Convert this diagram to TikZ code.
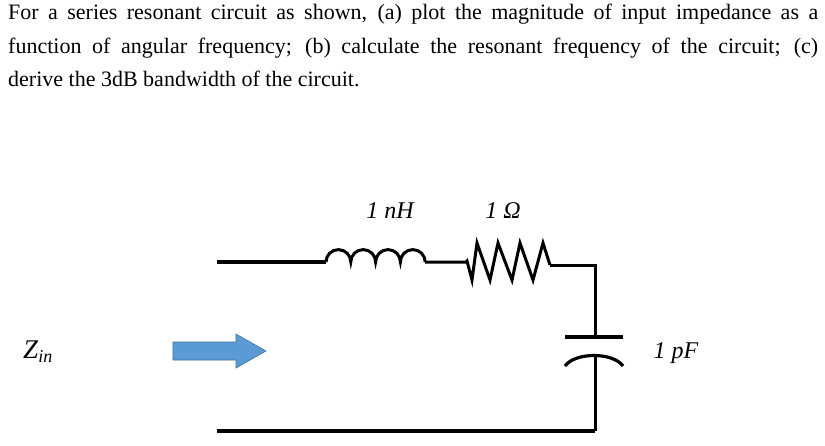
\documentclass[tikz,border=0pt]{standalone}
\usepackage{fontspec}
\setmainfont{Liberation Serif}
\begin{document}
\begin{tikzpicture}[x=1pt,y=-1pt,
  wire/.style={line width=3.6pt},
  comp/.style={line width=3pt,line join=miter},
  lbl/.style={font=\fontsize{24}{26}\selectfont\itshape}]
\useasboundingbox (0,0) rectangle (825,445);
\node[anchor=north west,inner sep=0pt,text width=810pt,align=justify,font=\fontsize{22}{33.5}\selectfont] (q) at (8,4)
{For a series resonant circuit as shown, (a) plot the magnitude of input impedance as a\linebreak function of angular frequency; (b) calculate the resonant frequency of the circuit; (c)\linebreak derive the 3dB bandwidth of the circuit.};
\coordinate (tl) at (217,262);
\coordinate (ls) at (326,262);
\coordinate (le) at (425,262);
\coordinate (rs) at (466,262);
\coordinate (re) at (550,265);
\coordinate (tr) at (595,265);
\coordinate (cp) at (595,337);
\coordinate (cb) at (595,355);
\coordinate (br) at (595,431);
\coordinate (bl) at (217,431);
\draw[wire] (tl) -- (ls);
\draw[comp] (ls) \foreach \i in {1,...,4}{ arc[start angle=180,end angle=360,radius=12.4] };
\draw[comp] (le) -- (rs) -- (467,261) -- (472,280) -- (477,243) -- (490,280) -- (498,243) -- (512,280) -- (520,243) -- (533,280) -- (543,243) -- (550,265) -- (re);
\draw[comp] (re) -- (tr) -- (cp);
\draw[line width=3.4pt] (565,337) -- (623,337);
\draw[line width=3.2pt] (565,366) .. controls (575,352) and (613,352) .. (623,366);
\draw[comp] (cb) -- (br);
\draw[wire] (br) -- (bl);
\draw[fill={rgb,255:red,91;green,155;blue,213},draw={rgb,255:red,65;green,113;blue,156},line width=0.6pt]
  (173,342) -- (236,342) -- (236,334) -- (266,351) -- (236,368) -- (236,360) -- (173,360) -- cycle;
\node[lbl,font=\fontsize{27}{28}\selectfont\itshape] (zin) at (38,352) {Z\textsubscript{\fontsize{18}{18}\selectfont in}};
\node[lbl] (L) at (390,211) {1 nH};
\node[lbl] (R) at (503,211) {1 Ω};
\node[lbl] (C) at (676,353) {1 pF};
\end{tikzpicture}
\end{document}
